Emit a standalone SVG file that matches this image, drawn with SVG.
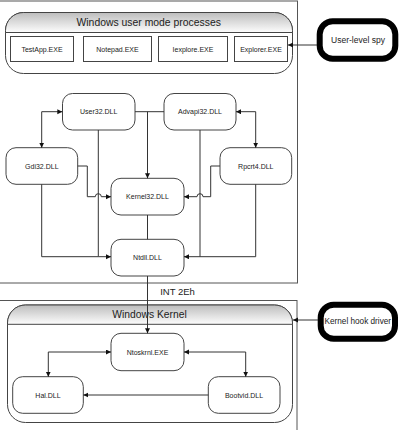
<svg xmlns="http://www.w3.org/2000/svg" width="400" height="430" viewBox="0 0 400 430">
<style>
.frame{fill:none;stroke:#555;stroke-width:1}
.cont{fill:#fff;stroke:#444;stroke-width:1}
.hdr{fill:url(#g);stroke:#444;stroke-width:1}
.box{fill:#fff;stroke:#444;stroke-width:1}
.spy{fill:#fff;stroke:#000;stroke-width:6}
.c{fill:none;stroke:#333;stroke-width:1}
.a{marker-end:url(#ah)}
.b{marker-start:url(#ah);marker-end:url(#ah)}
text{font-family:"Liberation Sans",Arial,sans-serif;fill:#222;text-anchor:middle}
.s{font-size:7px}
.t{font-size:10.4px}
.m{font-size:8.5px}
</style>
<defs>
<linearGradient id="g" x1="0" y1="0" x2="0" y2="1">
<stop offset="0" stop-color="#bdbdbd"/>
<stop offset="1" stop-color="#fdfdfd"/>
</linearGradient>
<marker id="ah" markerUnits="userSpaceOnUse" markerWidth="6" markerHeight="6" refX="5" refY="2.5" orient="auto-start-reverse">
<path d="M0,0 L5,2.5 L0,5 Z" fill="#111"/>
</marker>
</defs>

<g id="frames">
<rect class="frame" x="-1" y="1" width="298.5" height="282"/>
<rect class="frame" x="-1" y="300.5" width="298" height="140"/>
</g>

<g id="user-mode">
<rect class="cont" x="5.5" y="12.5" width="287" height="61" rx="18"/>
<path class="hdr" d="M5.5,32.5 V30.5 A18,18 0 0 1 23.5,12.5 H274.5 A18,18 0 0 1 292.5,30.5 V32.5 Z"/>
<text class="t" x="148.7" y="26.3">Windows user mode processes</text>
</g>
<g id="testapp"><rect class="box" x="10.5" y="36.5" width="63" height="25"/><text class="s" x="42" y="51.5">TestApp.EXE</text></g>
<g id="notepad"><rect class="box" x="83.5" y="36.5" width="68" height="25"/><text class="s" x="117.5" y="51.5">Notepad.EXE</text></g>
<g id="iexplore"><rect class="box" x="158.5" y="36.5" width="69" height="25"/><text class="s" x="193" y="51.5">Iexplore.EXE</text></g>
<g id="explorer"><rect class="box" x="234.5" y="36.5" width="53" height="25"/><text class="s" x="261" y="51.5">Explorer.EXE</text></g>

<g id="user-spy"><rect class="spy" x="319.7" y="21.3" width="75.6" height="37.4" rx="13"/><text class="m" x="358" y="43">User-level spy</text></g>

<g id="user32"><rect class="box" x="62.5" y="93.5" width="72.5" height="36.5" rx="10"/><text class="s" x="98.7" y="114.2">User32.DLL</text></g>
<g id="advapi32"><rect class="box" x="164" y="93.5" width="72" height="36.5" rx="10"/><text class="s" x="200" y="114.2">Advapi32.DLL</text></g>
<g id="gdi32"><rect class="box" x="6" y="147.7" width="71.7" height="36.6" rx="10"/><text class="s" x="41.8" y="168.5">Gdi32.DLL</text></g>
<g id="rpcrt4"><rect class="box" x="220" y="147.7" width="71.7" height="36.6" rx="10"/><text class="s" x="255.8" y="168.5">Rpcrt4.DLL</text></g>
<g id="kernel32"><rect class="box" x="111" y="178.3" width="73" height="36.7" rx="10"/><text class="s" x="147.5" y="199.2">Kernel32.DLL</text></g>
<g id="ntdll"><rect class="box" x="111" y="239.3" width="73" height="36.7" rx="10"/><text class="s" x="147.5" y="260">Ntdll.DLL</text></g>

<text id="int2eh" x="177.5" y="295" style="font-size:9.5px">INT 2Eh</text>

<g id="kernel">
<rect class="cont" x="7.5" y="305" width="285" height="117.5" rx="18"/>
<path class="hdr" d="M7.5,324.3 V323 A18,18 0 0 1 25.5,305 H274.5 A18,18 0 0 1 292.5,323 V324.3 Z"/>
<text style="font-size:10.3px" x="149.5" y="318.3">Windows Kernel</text>
</g>
<g id="ntoskrnl"><rect class="box" x="111" y="333.3" width="73" height="37.4" rx="10"/><text class="s" x="147.5" y="354.5">Ntoskrnl.EXE</text></g>
<g id="hal"><rect class="box" x="12.7" y="376.7" width="70.6" height="36.6" rx="10"/><text class="s" x="48" y="397.5">Hal.DLL</text></g>
<g id="bootvid"><rect class="box" x="208.3" y="376.7" width="71.7" height="36.6" rx="10"/><text class="s" x="244" y="397.5">Bootvid.DLL</text></g>

<g id="kernel-hook"><rect class="spy" x="320.7" y="304.7" width="74.3" height="34" rx="13"/><text style="font-size:8.2px" x="357.8" y="324.4">Kernel hook driver</text></g>

<g id="connectors">
<path class="c a" d="M317,45 H288"/>
<path class="c a" d="M318,320 H293"/>
<path class="c b" d="M62.3,111.7 H41.7 V147.7"/>
<path class="c b" d="M236,111.7 H255.7 V147.7"/>
<path class="c" d="M135,111.7 H164"/>
<path class="c a" d="M147.5,111.7 V178.3"/>
<path class="c a" d="M98.3,130 V256.7 H111"/>
<path class="c" d="M41.7,184.3 V256.7 H98.3"/>
<path class="c a" d="M77.7,166 H87.3 V196.7 H95.3 A3,3 0 0 1 101.3,196.7 H111"/>
<path class="c a" d="M220,166 H210.7 V196.7 H203 A3,3 0 0 0 197,196.7 H184"/>
<path class="c" d="M200,130 V256.7"/>
<path class="c a" d="M255.7,184.3 V256.7 H184"/>
<path class="c" d="M147.5,215 V239.3"/>
<path class="c a" d="M147.5,276 V333.3"/>
<path class="c b" d="M111,352 H48.3 V376.7"/>
<path class="c b" d="M184,352 H245.7 V376.7"/>
<path class="c a" d="M208.3,395 H83.3"/>
</g>
</svg>
